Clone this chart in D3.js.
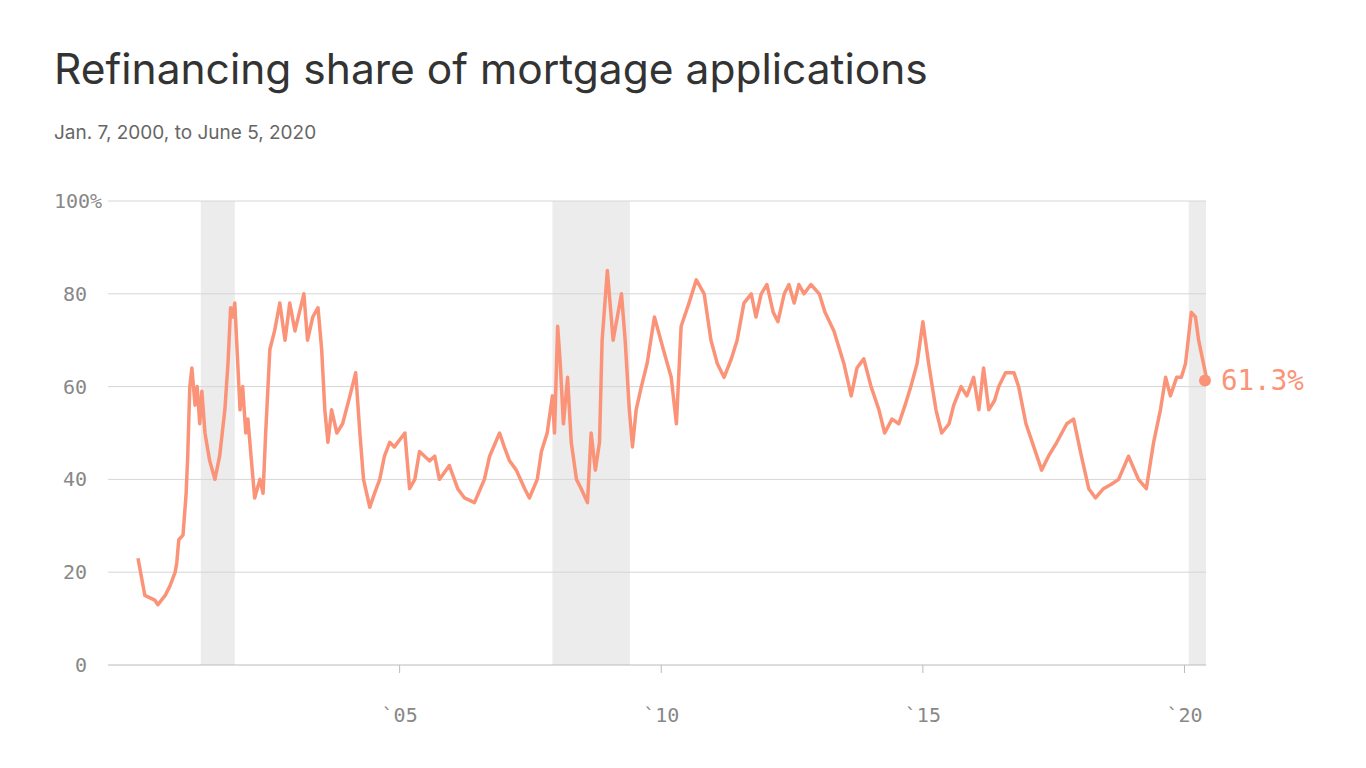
<!DOCTYPE html>
<html>
<head>
<meta charset="utf-8">
<script src="https://cdn.jsdelivr.net/npm/d3@7"></script>
<style>
  body { margin: 0; background: #fff; }
  svg { display: block; }
</style>
</head>
<body>
<div id="chart"></div>
<script>
// years since Jan 2000
const yearOffsets = [0.00,0.13,0.32,0.38,0.52,0.61,0.71,0.74,0.78,0.86,0.92,0.95,0.99,1.03,1.09,1.13,1.18,1.22,1.28,1.37,1.47,1.56,1.66,1.72,1.77,1.81,1.85,1.95,2.00,2.06,2.10,2.16,2.23,2.33,2.39,2.44,2.52,2.61,2.71,2.81,2.90,3.00,3.17,3.24,3.34,3.44,3.51,3.57,3.63,3.70,3.80,3.91,4.05,4.16,4.24,4.31,4.43,4.52,4.62,4.71,4.81,4.90,5.10,5.19,5.29,5.38,5.57,5.67,5.76,5.95,6.11,6.24,6.43,6.62,6.72,6.91,7.00,7.10,7.23,7.39,7.48,7.63,7.71,7.82,7.92,7.96,8.02,8.07,8.13,8.21,8.28,8.38,8.47,8.59,8.66,8.74,8.82,8.87,8.97,9.08,9.24,9.31,9.39,9.45,9.52,9.62,9.73,9.87,10.04,10.19,10.29,10.38,10.53,10.67,10.82,10.95,11.07,11.20,11.34,11.45,11.58,11.72,11.81,11.91,12.02,12.14,12.23,12.35,12.44,12.54,12.63,12.73,12.86,13.02,13.13,13.30,13.49,13.63,13.74,13.87,14.01,14.16,14.27,14.41,14.54,14.66,14.77,14.89,15.00,15.11,15.25,15.36,15.50,15.59,15.73,15.84,15.97,16.07,16.16,16.26,16.37,16.45,16.58,16.74,16.83,16.97,17.12,17.27,17.40,17.56,17.75,17.88,18.03,18.17,18.30,18.45,18.61,18.74,18.93,19.12,19.27,19.41,19.54,19.64,19.73,19.85,19.94,20.02,20.13,20.21,20.27,20.43];
const refiShare = [23,15,14,13,15,17,20,22,27,28,37,45,60,64,56,60,52,59,50,44,40,45,55,65,77,75,78,55,60,50,53,45,36,40,37,50,68,72,78,70,78,72,80,70,75,77,68,55,48,55,50,52,58,63,50,40,34,37,40,45,48,47,50,38,40,46,44,45,40,43,38,36,35,40,45,50,47,44,42,38,36,40,46,50,58,50,73,65,52,62,48,40,38,35,50,42,48,70,85,70,80,70,55,47,55,60,65,75,68,62,52,73,78,83,80,70,65,62,66,70,78,80,75,80,82,76,74,80,82,78,82,80,82,80,76,72,65,58,64,66,60,55,50,53,52,56,60,65,74,65,55,50,52,56,60,58,62,55,64,55,57,60,63,63,60,52,47,42,45,48,52,53,45,38,36,38,39,40,45,40,38,48,55,62,58,62,62,65,76,75,70,61.3];
const recessions = [[1.2, 1.85], [7.92, 9.4], [20.08, 20.43]];
const yTicks = [0, 20, 40, 60, 80, 100];
const xTicks = [5, 10, 15, 20];
const xTickLabels = ["`05", "`10", "`15", "`20"];

const W = 1366, H = 768;
const svg = d3.select("#chart").append("svg").attr("width", W).attr("height", H);

const x = d3.scaleLinear().domain([0, 20.43]).range([138, 1207]);
const y = d3.scaleLinear().domain([0, 100]).range([665, 201]);
const gridLeft = 108, gridRight = 1206;
const mono = "'DejaVu Sans Mono', monospace";
const lineColor = "#fb9378";

svg.append("text").attr("x", 54).attr("y", 84)
   .style("font-family", "Inter, 'Noto Sans', sans-serif").style("font-size", "42.5px")
   .style("fill", "#333").text("Refinancing share of mortgage applications");
svg.append("text").attr("x", 54).attr("y", 139)
   .style("font-family", "Inter, 'Noto Sans', sans-serif").style("font-size", "19px")
   .style("fill", "#666").text("Jan. 7, 2000, to June 5, 2020");

// recession shading
svg.selectAll(".rec").data(recessions).enter().append("rect")
   .attr("x", d => x(d[0])).attr("width", d => Math.min(x(d[1]), gridRight) - x(d[0]))
   .attr("y", y(100)).attr("height", y(0) - y(100)).attr("fill", "#ececec");

// gridlines
svg.selectAll(".grid").data(yTicks).enter().append("line")
   .attr("x1", gridLeft).attr("x2", gridRight)
   .attr("y1", d => y(d)).attr("y2", d => y(d))
   .attr("stroke", d => d === 0 ? "#bbb" : "#d6d6d6").attr("stroke-width", 1);

// numbers right-aligned, the % on the top label hangs past them
svg.selectAll(".ylab").data(yTicks).enter().append("text")
   .attr("x", d => d === 100 ? 54 : 87).attr("y", d => y(d) + 7)
   .attr("text-anchor", d => d === 100 ? "start" : "end")
   .style("font-family", mono).style("font-size", "20px").style("fill", "#888")
   .text(d => d === 100 ? "100%" : d);

// x ticks
svg.selectAll(".xt").data(xTicks).enter().append("line")
   .attr("x1", d => x(d)).attr("x2", d => x(d)).attr("y1", y(0)).attr("y2", y(0) + 8)
   .attr("stroke", "#bbb");
svg.selectAll(".xlab").data(xTicks).enter().append("text")
   .attr("x", d => x(d)).attr("y", 722).attr("text-anchor", "middle")
   .style("font-family", mono).style("font-size", "20px").style("fill", "#888")
   .text((d, i) => xTickLabels[i]);

const pts = yearOffsets.map((t, i) => ({t, v: refiShare[i]}));
const line = d3.line().x(d => x(d.t)).y(d => y(d.v));
svg.append("path").datum(pts).attr("d", line).attr("fill", "none")
   .attr("stroke", lineColor).attr("stroke-width", 3.5).attr("stroke-linejoin", "round");

const last = pts[pts.length - 1];
svg.append("circle").attr("cx", x(last.t) - 2).attr("cy", y(last.v)).attr("r", 6).attr("fill", lineColor);
svg.append("text").attr("x", x(last.t) + 14).attr("y", y(last.v) + 9)
   .style("font-family", mono).style("font-size", "27.5px").style("fill", lineColor)
   .text(last.v + "%");
</script>
</body>
</html>
